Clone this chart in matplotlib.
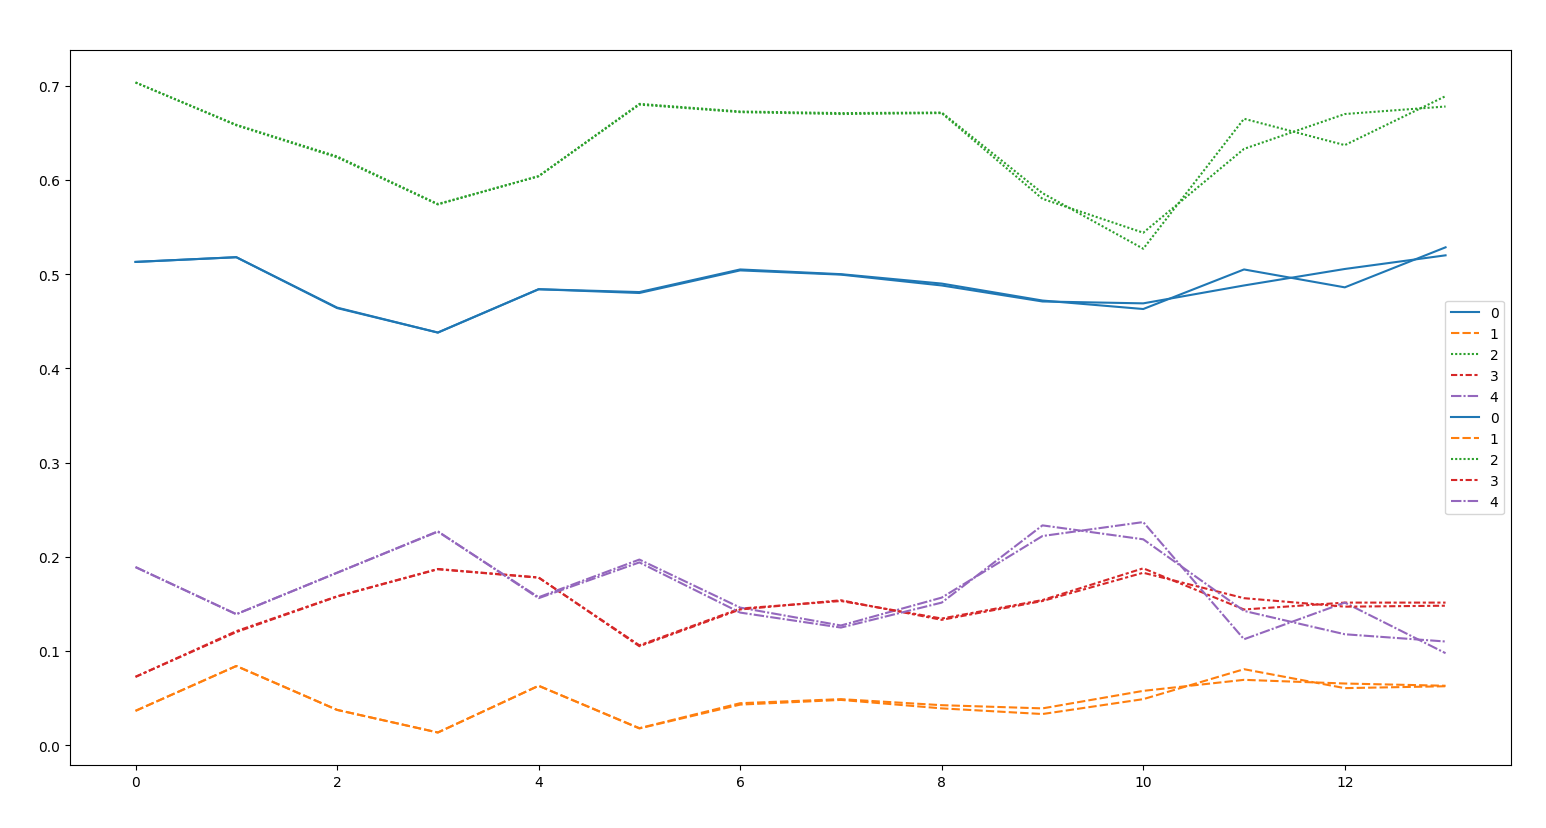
import matplotlib
matplotlib.use("Agg")
import matplotlib.pyplot as plt
import pandas as pd
import seaborn as sns

# values, two runs of five series each (index 0..13)
a0 = [0.513, 0.518, 0.4645, 0.438, 0.484, 0.481, 0.505, 0.500, 0.490, 0.472, 0.463, 0.505, 0.486, 0.5285]
a1 = [0.0364, 0.084, 0.0374, 0.0134, 0.063, 0.018, 0.0445, 0.0488, 0.0424, 0.039, 0.0576, 0.0693, 0.0654, 0.063]
a2 = [0.7035, 0.6586, 0.625, 0.5745, 0.604, 0.6808, 0.6727, 0.671, 0.6716, 0.586, 0.527, 0.665, 0.637, 0.689]
a3 = [0.0725, 0.120, 0.1577, 0.1867, 0.1778, 0.106, 0.145, 0.153, 0.1344, 0.154, 0.1877, 0.144, 0.1513, 0.1513]
a4 = [0.189, 0.139, 0.183, 0.2266, 0.157, 0.197, 0.146, 0.127, 0.1566, 0.222, 0.2368, 0.1124, 0.1513, 0.0976]

b0 = [0.513, 0.518, 0.464, 0.438, 0.484, 0.480, 0.504, 0.4995, 0.488, 0.471, 0.469, 0.488, 0.5055, 0.520]
b1 = [0.0364, 0.084, 0.0374, 0.0134, 0.063, 0.0177, 0.043, 0.048, 0.039, 0.033, 0.0488, 0.0806, 0.0605, 0.0625]
b2 = [0.7035, 0.658, 0.624, 0.574, 0.604, 0.680, 0.672, 0.670, 0.671, 0.580, 0.544, 0.633, 0.670, 0.678]
b3 = [0.0725, 0.121, 0.158, 0.187, 0.178, 0.105, 0.144, 0.1538, 0.133, 0.153, 0.183, 0.156, 0.147, 0.148]
b4 = [0.189, 0.139, 0.183, 0.227, 0.156, 0.194, 0.1407, 0.1248, 0.1513, 0.2333, 0.2185, 0.1425, 0.1177, 0.110]

df_a = pd.DataFrame({0: a0, 1: a1, 2: a2, 3: a3, 4: a4})
df_b = pd.DataFrame({0: b0, 1: b1, 2: b2, 3: b3, 4: b4})

fig, ax = plt.subplots(figsize=(15.46, 8.29), dpi=100)
fig.subplots_adjust(left=0.0453, right=0.9774, top=0.9385, bottom=0.076)

sns.lineplot(data=df_a, ax=ax)
sns.lineplot(data=df_b, ax=ax)

ax.legend(loc='center right')

plt.savefig('out.png', dpi=100)
